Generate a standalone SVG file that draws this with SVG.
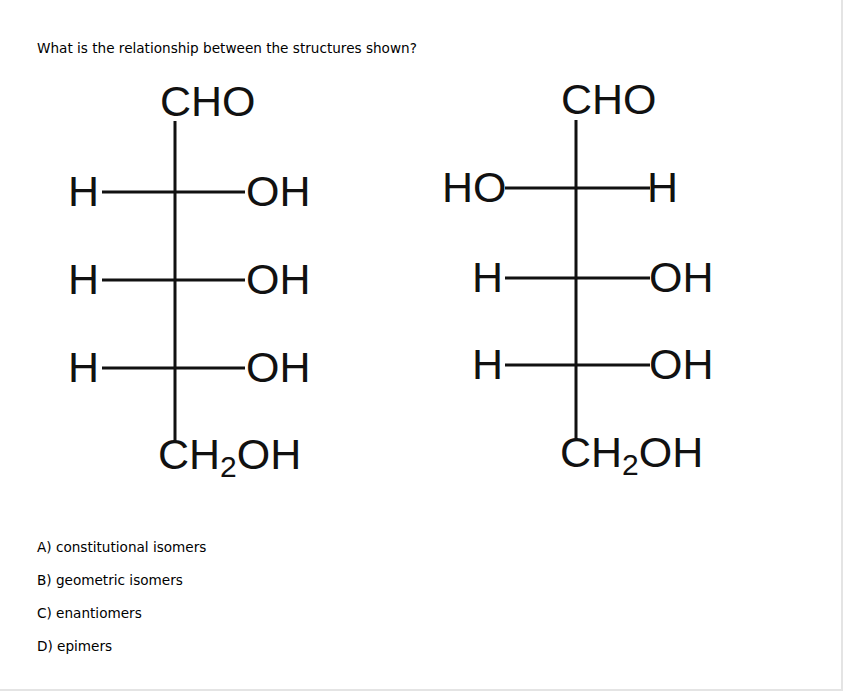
<svg xmlns="http://www.w3.org/2000/svg" width="852" height="697" viewBox="0 0 852 697">
<style>
.q{font-family:"DejaVu Sans",Verdana,sans-serif;font-size:13.6px;fill:#000}
.c{font-family:"Liberation Sans",Arial,sans-serif;font-size:43px;fill:#111}
.s{font-size:30px}
.b{stroke:#111;stroke-width:3;fill:none}
</style>
<rect width="852" height="697" fill="#fff"/>
<path d="M842 0V690H0" stroke="#e4e4e4" stroke-width="2" fill="none"/>
<text class="q" x="37" y="53">What is the relationship between the structures shown?</text>
<g id="left">
<g id="connectors-left">
<line class="b" x1="175" y1="121" x2="175" y2="443"/>
<line class="b" x1="102" y1="192" x2="245" y2="192"/>
<line class="b" x1="102" y1="280" x2="245" y2="280"/>
<line class="b" x1="102" y1="368" x2="245" y2="368"/>
</g>
<text class="c" x="160" y="116">CHO</text>
<text class="c" x="68" y="206">H</text><text class="c" x="246" y="206">OH</text>
<text class="c" x="68" y="294">H</text><text class="c" x="246" y="294">OH</text>
<text class="c" x="68" y="382">H</text><text class="c" x="246" y="382">OH</text>
<text class="c" x="158" y="469">CH<tspan class="s" dy="8">2</tspan><tspan dy="-8">OH</tspan></text>
</g>
<g id="right">
<g id="connectors-right">
<line class="b" x1="576" y1="120" x2="576" y2="440"/>
<line class="b" x1="505" y1="188" x2="650" y2="188"/>
<line class="b" x1="505" y1="278" x2="650" y2="278"/>
<line class="b" x1="505" y1="365" x2="650" y2="365"/>
</g>
<text class="c" x="561" y="114">CHO</text>
<text class="c" x="442" y="202">HO</text><text class="c" x="647" y="202">H</text>
<text class="c" x="472" y="292">H</text><text class="c" x="649" y="292">OH</text>
<text class="c" x="472" y="379">H</text><text class="c" x="649" y="379">OH</text>
<text class="c" x="560" y="467">CH<tspan class="s" dy="8">2</tspan><tspan dy="-8">OH</tspan></text>
</g>
<text class="q" x="37" y="552">A) constitutional isomers</text>
<text class="q" x="37" y="585">B) geometric isomers</text>
<text class="q" x="37" y="618">C) enantiomers</text>
<text class="q" x="37" y="651">D) epimers</text>
</svg>
